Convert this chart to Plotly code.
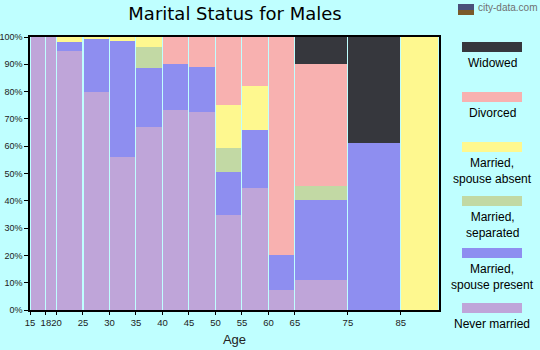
import plotly.graph_objects as go

# Age bracket edges (the last bracket is 85+)
age_edges = [15, 18, 20, 25, 30, 35, 40, 45, 50, 55, 60, 65, 75, 85, 92.2]
tick_ages = [15, 18, 20, 25, 30, 35, 40, 45, 50, 55, 60, 65, 75, 85]

# Share of males in each status, percent per age bracket
never_married = [100, 100, 95.0, 80.0, 56.1, 67.1, 73.3, 72.6, 34.8, 44.7, 7.3, 11.0, 0, 0]
spouse_present = [0, 0, 3.3, 19.4, 42.6, 21.7, 16.9, 16.5, 15.8, 21.3, 12.9, 29.3, 61.3, 0]
separated = [0, 0, 0, 0, 0, 7.7, 0, 0, 8.8, 0, 0, 5.2, 0, 0]
spouse_absent = [0, 0, 1.7, 0.6, 1.3, 3.5, 0, 0, 15.8, 16.2, 0, 0, 0, 100]
divorced = [0, 0, 0, 0, 0, 0, 9.8, 10.9, 24.8, 17.8, 79.8, 44.7, 0, 0]
widowed = [0, 0, 0, 0, 0, 0, 0, 0, 0, 0, 0, 9.8, 38.7, 0]

series = [
    ("Never married", never_married, "#bfa5d9"),
    ("Married,<br>spouse present", spouse_present, "#8e8ef0"),
    ("Married,<br>separated", separated, "#c2d9a4"),
    ("Married,<br>spouse absent", spouse_absent, "#fef88f"),
    ("Divorced", divorced, "#f8b1b0"),
    ("Widowed", widowed, "#36373d"),
]

BG = "#bfffff"
GAP = 0.2  # thin background gap between neighbouring brackets
TICK_FONT = "Liberation Sans, Arial"

centers = [(a + b) / 2 for a, b in zip(age_edges[:-1], age_edges[1:])]
widths = [(b - a) - GAP for a, b in zip(age_edges[:-1], age_edges[1:])]

fig = go.Figure()
for name, vals, color in series:
    fig.add_trace(go.Bar(
        x=centers, y=vals, width=widths, name=name.replace("<br>", " "),
        marker=dict(color=color, line=dict(width=0)),
        showlegend=False, hoverinfo="skip",
    ))

fig.update_layout(
    barmode="stack",
    width=540, height=350,
    margin=dict(l=30, r=101, t=37, b=40),
    paper_bgcolor=BG, plot_bgcolor=BG,
    font=dict(family="Liberation Sans, Arial", color="#000000"),
    title=dict(text="Marital Status for Males", x=235 / 540, xanchor="center",
               y=1 - 14 / 350, yanchor="middle",
               font=dict(family="DejaVu Sans", size=18, color="#000000")),
    xaxis=dict(range=[age_edges[0], age_edges[-1]], tickvals=tick_ages,
               ticktext=[str(t) for t in tick_ages], ticks="outside", ticklen=3,
               tickangle=0, automargin=False,
               tickcolor="#000", showline=True, linecolor="#000", linewidth=1.5,
               mirror=True, showgrid=False, zeroline=False,
               tickfont=dict(size=9.5, family=TICK_FONT, color="#222"),
               title=dict(text="Age", font=dict(size=13, color="#222"), standoff=8)),
    yaxis=dict(range=[0, 100], tickvals=list(range(0, 101, 10)),
               ticktext=[f"{v}%" for v in range(0, 101, 10)], ticks="outside",
               ticklen=4, tickcolor="#000", showline=True, linecolor="#000",
               linewidth=1.5, mirror=True, showgrid=False, zeroline=False,
               automargin=False,
               tickfont=dict(size=9, family=TICK_FONT, color="#222")),
)

# Custom legend column on the right: swatch with label beneath
legend_rows = [
    ("Widowed", "#36373d", 42),
    ("Divorced", "#f8b1b0", 92),
    ("Married,<br>spouse absent", "#fef88f", 142),
    ("Married,<br>separated", "#c2d9a4", 196),
    ("Married,<br>spouse present", "#8e8ef0", 248),
    ("Never married", "#bfa5d9", 303),
]
for label, color, top in legend_rows:
    fig.add_shape(type="rect", xref="paper", yref="paper",
                  x0=(462 - 30) / 409, x1=(522 - 30) / 409,
                  y0=(310 - top) / 273, y1=(310 - top - 10) / 273,
                  fillcolor=color, line=dict(width=0))
    fig.add_annotation(xref="paper", yref="paper", x=(492 - 30) / 409,
                       y=(310 - top - 12) / 273, xanchor="center", yanchor="top",
                       text=label, showarrow=False, align="center",
                       font=dict(size=12, family="Liberation Sans, Arial", color="#000"))

# Site mark in the corner
fig.add_shape(type="rect", xref="paper", yref="paper",
              x0=(458 - 30) / 409, x1=(474 - 30) / 409,
              y0=(310 - 15) / 273, y1=(310 - 4) / 273,
              fillcolor="#4a4f7a", line=dict(width=0))
fig.add_shape(type="rect", xref="paper", yref="paper",
              x0=(458 - 30) / 409, x1=(474 - 30) / 409,
              y0=(310 - 15) / 273, y1=(310 - 10) / 273,
              fillcolor="#7a5a2a", line=dict(width=0))
fig.add_annotation(xref="paper", yref="paper", x=(476 - 30) / 409,
                   y=(310 - 8) / 273, xanchor="left", yanchor="middle",
                   text="city-data.com", showarrow=False,
                   font=dict(size=10, family="Liberation Sans, Arial", color="#707070"))

fig.write_html("out.html")
